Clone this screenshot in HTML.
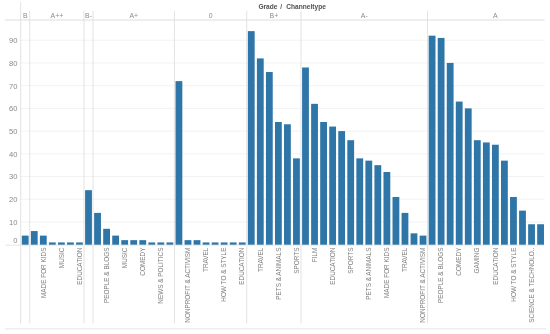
<!DOCTYPE html>
<html><head><meta charset="utf-8"><title>Grade / Channeltype</title>
<style>
html,body{margin:0;padding:0;background:#fff;}
body{width:550px;height:334px;overflow:hidden;font-family:"Liberation Sans",sans-serif;}
svg text{font-family:"Liberation Sans",sans-serif;}
.h{font-size:6.9px;fill:#8c8c8c;}
.l{font-size:7px;fill:#7e7e7e;}
.t{font-size:7.6px;fill:#888;}
.title{font-size:6.6px;font-weight:bold;fill:#505050;}
</style></head><body>
<svg width="550" height="334" viewBox="0 0 550 334" style="display:block">
<rect width="550" height="334" fill="#fff"/>
<line x1="20.7" x2="544.5" y1="221.98" y2="221.98" stroke="#f2f2f2" stroke-width="1"/>
<line x1="20.7" x2="544.5" y1="199.26" y2="199.26" stroke="#f2f2f2" stroke-width="1"/>
<line x1="20.7" x2="544.5" y1="176.54" y2="176.54" stroke="#f2f2f2" stroke-width="1"/>
<line x1="20.7" x2="544.5" y1="153.82" y2="153.82" stroke="#f2f2f2" stroke-width="1"/>
<line x1="20.7" x2="544.5" y1="131.10" y2="131.10" stroke="#f2f2f2" stroke-width="1"/>
<line x1="20.7" x2="544.5" y1="108.38" y2="108.38" stroke="#f2f2f2" stroke-width="1"/>
<line x1="20.7" x2="544.5" y1="85.66" y2="85.66" stroke="#f2f2f2" stroke-width="1"/>
<line x1="20.7" x2="544.5" y1="62.94" y2="62.94" stroke="#f2f2f2" stroke-width="1"/>
<line x1="20.7" x2="544.5" y1="40.22" y2="40.22" stroke="#f2f2f2" stroke-width="1"/>
<line x1="20.70" x2="20.70" y1="2" y2="323.5" stroke="#e2e2e2" stroke-width="1"/>
<line x1="29.74" x2="29.74" y1="10.7" y2="323.5" stroke="#e2e2e2" stroke-width="1"/>
<line x1="83.99" x2="83.99" y1="10.7" y2="323.5" stroke="#e2e2e2" stroke-width="1"/>
<line x1="93.03" x2="93.03" y1="10.7" y2="323.5" stroke="#e2e2e2" stroke-width="1"/>
<line x1="174.40" x2="174.40" y1="10.7" y2="323.5" stroke="#e2e2e2" stroke-width="1"/>
<line x1="246.73" x2="246.73" y1="10.7" y2="323.5" stroke="#e2e2e2" stroke-width="1"/>
<line x1="300.98" x2="300.98" y1="10.7" y2="323.5" stroke="#e2e2e2" stroke-width="1"/>
<line x1="427.56" x2="427.56" y1="10.7" y2="323.5" stroke="#e2e2e2" stroke-width="1"/>
<line x1="5" x2="544.5" y1="20.0" y2="20.0" stroke="#dedede" stroke-width="1.2"/>
<line x1="5" x2="544.5" y1="245.2" y2="245.2" stroke="#e6e6e6" stroke-width="1"/>
<rect x="5" y="328" width="541" height="1.6" fill="#eeeeee"/>
<text x="25.22" y="17.5" text-anchor="middle" class="h">B</text>
<rect x="21.82" y="235.61" width="6.8" height="9.09" fill="#2e75a8"/>
<text x="56.87" y="17.5" text-anchor="middle" class="h">A++</text>
<rect x="30.86" y="231.07" width="6.8" height="13.63" fill="#2e75a8"/>
<rect x="39.90" y="235.61" width="6.8" height="9.09" fill="#2e75a8"/>
<text transform="translate(45.50,247.6) rotate(-90) scale(0.915,1)" text-anchor="end" class="l">MADE FOR KIDS</text>
<rect x="48.94" y="242.43" width="6.8" height="2.27" fill="#2e75a8"/>
<rect x="57.99" y="242.43" width="6.8" height="2.27" fill="#2e75a8"/>
<text transform="translate(63.59,247.6) rotate(-90) scale(0.915,1)" text-anchor="end" class="l">MUSIC</text>
<rect x="67.03" y="242.43" width="6.8" height="2.27" fill="#2e75a8"/>
<rect x="76.07" y="242.43" width="6.8" height="2.27" fill="#2e75a8"/>
<text transform="translate(81.67,247.6) rotate(-90) scale(0.915,1)" text-anchor="end" class="l">EDUCATION</text>
<text x="88.51" y="17.5" text-anchor="middle" class="h">B-</text>
<rect x="85.11" y="190.17" width="6.8" height="54.53" fill="#2e75a8"/>
<text x="133.72" y="17.5" text-anchor="middle" class="h">A+</text>
<rect x="94.15" y="212.89" width="6.8" height="31.81" fill="#2e75a8"/>
<rect x="103.19" y="228.80" width="6.8" height="15.90" fill="#2e75a8"/>
<text transform="translate(108.79,247.6) rotate(-90) scale(0.915,1)" text-anchor="end" class="l">PEOPLE &amp; BLOGS</text>
<rect x="112.23" y="235.61" width="6.8" height="9.09" fill="#2e75a8"/>
<rect x="121.28" y="240.16" width="6.8" height="4.54" fill="#2e75a8"/>
<text transform="translate(126.88,247.6) rotate(-90) scale(0.915,1)" text-anchor="end" class="l">MUSIC</text>
<rect x="130.32" y="240.16" width="6.8" height="4.54" fill="#2e75a8"/>
<rect x="139.36" y="240.16" width="6.8" height="4.54" fill="#2e75a8"/>
<text transform="translate(144.96,247.6) rotate(-90) scale(0.915,1)" text-anchor="end" class="l">COMEDY</text>
<rect x="148.40" y="242.43" width="6.8" height="2.27" fill="#2e75a8"/>
<rect x="157.44" y="242.43" width="6.8" height="2.27" fill="#2e75a8"/>
<text transform="translate(163.04,247.6) rotate(-90) scale(0.915,1)" text-anchor="end" class="l">NEWS &amp; POLITICS</text>
<rect x="166.48" y="242.43" width="6.8" height="2.27" fill="#2e75a8"/>
<text x="210.57" y="17.5" text-anchor="middle" class="h">0</text>
<rect x="175.52" y="81.12" width="6.8" height="163.58" fill="#2e75a8"/>
<rect x="184.57" y="240.16" width="6.8" height="4.54" fill="#2e75a8"/>
<text transform="translate(190.17,247.6) rotate(-90) scale(0.915,1)" text-anchor="end" class="l">NONPROFIT &amp; ACTIVISM</text>
<rect x="193.61" y="240.16" width="6.8" height="4.54" fill="#2e75a8"/>
<rect x="202.65" y="242.43" width="6.8" height="2.27" fill="#2e75a8"/>
<text transform="translate(208.25,247.6) rotate(-90) scale(0.915,1)" text-anchor="end" class="l">TRAVEL</text>
<rect x="211.69" y="242.43" width="6.8" height="2.27" fill="#2e75a8"/>
<rect x="220.73" y="242.43" width="6.8" height="2.27" fill="#2e75a8"/>
<text transform="translate(226.33,247.6) rotate(-90) scale(0.915,1)" text-anchor="end" class="l">HOW TO &amp; STYLE</text>
<rect x="229.77" y="242.43" width="6.8" height="2.27" fill="#2e75a8"/>
<rect x="238.81" y="242.43" width="6.8" height="2.27" fill="#2e75a8"/>
<text transform="translate(244.41,247.6) rotate(-90) scale(0.915,1)" text-anchor="end" class="l">EDUCATION</text>
<text x="273.86" y="17.5" text-anchor="middle" class="h">B+</text>
<rect x="247.86" y="31.13" width="6.8" height="213.57" fill="#2e75a8"/>
<rect x="256.90" y="58.40" width="6.8" height="186.30" fill="#2e75a8"/>
<text transform="translate(262.50,247.6) rotate(-90) scale(0.915,1)" text-anchor="end" class="l">TRAVEL</text>
<rect x="265.94" y="72.03" width="6.8" height="172.67" fill="#2e75a8"/>
<rect x="274.98" y="122.01" width="6.8" height="122.69" fill="#2e75a8"/>
<text transform="translate(280.58,247.6) rotate(-90) scale(0.915,1)" text-anchor="end" class="l">PETS &amp; ANIMALS</text>
<rect x="284.02" y="124.28" width="6.8" height="120.42" fill="#2e75a8"/>
<rect x="293.06" y="158.36" width="6.8" height="86.34" fill="#2e75a8"/>
<text transform="translate(298.66,247.6) rotate(-90) scale(0.915,1)" text-anchor="end" class="l">SPORTS</text>
<text x="364.27" y="17.5" text-anchor="middle" class="h">A-</text>
<rect x="302.10" y="67.48" width="6.8" height="177.22" fill="#2e75a8"/>
<rect x="311.14" y="103.84" width="6.8" height="140.86" fill="#2e75a8"/>
<text transform="translate(316.74,247.6) rotate(-90) scale(0.915,1)" text-anchor="end" class="l">FILM</text>
<rect x="320.19" y="122.01" width="6.8" height="122.69" fill="#2e75a8"/>
<rect x="329.23" y="126.56" width="6.8" height="118.14" fill="#2e75a8"/>
<text transform="translate(334.83,247.6) rotate(-90) scale(0.915,1)" text-anchor="end" class="l">EDUCATION</text>
<rect x="338.27" y="131.10" width="6.8" height="113.60" fill="#2e75a8"/>
<rect x="347.31" y="140.19" width="6.8" height="104.51" fill="#2e75a8"/>
<text transform="translate(352.91,247.6) rotate(-90) scale(0.915,1)" text-anchor="end" class="l">SPORTS</text>
<rect x="356.35" y="158.36" width="6.8" height="86.34" fill="#2e75a8"/>
<rect x="365.39" y="160.64" width="6.8" height="84.06" fill="#2e75a8"/>
<text transform="translate(370.99,247.6) rotate(-90) scale(0.915,1)" text-anchor="end" class="l">PETS &amp; ANIMALS</text>
<rect x="374.43" y="165.18" width="6.8" height="79.52" fill="#2e75a8"/>
<rect x="383.48" y="172.00" width="6.8" height="72.70" fill="#2e75a8"/>
<text transform="translate(389.08,247.6) rotate(-90) scale(0.915,1)" text-anchor="end" class="l">MADE FOR KIDS</text>
<rect x="392.52" y="196.99" width="6.8" height="47.71" fill="#2e75a8"/>
<rect x="401.56" y="212.89" width="6.8" height="31.81" fill="#2e75a8"/>
<text transform="translate(407.16,247.6) rotate(-90) scale(0.915,1)" text-anchor="end" class="l">TRAVEL</text>
<rect x="410.60" y="233.34" width="6.8" height="11.36" fill="#2e75a8"/>
<rect x="419.64" y="235.61" width="6.8" height="9.09" fill="#2e75a8"/>
<text transform="translate(425.24,247.6) rotate(-90) scale(0.915,1)" text-anchor="end" class="l">NONPROFIT &amp; ACTIVISM</text>
<text x="495.37" y="17.5" text-anchor="middle" class="h">A</text>
<rect x="428.68" y="35.68" width="6.8" height="209.02" fill="#2e75a8"/>
<rect x="437.72" y="37.95" width="6.8" height="206.75" fill="#2e75a8"/>
<text transform="translate(443.32,247.6) rotate(-90) scale(0.915,1)" text-anchor="end" class="l">PEOPLE &amp; BLOGS</text>
<rect x="446.77" y="62.94" width="6.8" height="181.76" fill="#2e75a8"/>
<rect x="455.81" y="101.56" width="6.8" height="143.14" fill="#2e75a8"/>
<text transform="translate(461.41,247.6) rotate(-90) scale(0.915,1)" text-anchor="end" class="l">COMEDY</text>
<rect x="464.85" y="108.38" width="6.8" height="136.32" fill="#2e75a8"/>
<rect x="473.89" y="140.19" width="6.8" height="104.51" fill="#2e75a8"/>
<text transform="translate(479.49,247.6) rotate(-90) scale(0.915,1)" text-anchor="end" class="l">GAMING</text>
<rect x="482.93" y="142.46" width="6.8" height="102.24" fill="#2e75a8"/>
<rect x="491.97" y="144.73" width="6.8" height="99.97" fill="#2e75a8"/>
<text transform="translate(497.57,247.6) rotate(-90) scale(0.915,1)" text-anchor="end" class="l">EDUCATION</text>
<rect x="501.01" y="160.64" width="6.8" height="84.06" fill="#2e75a8"/>
<rect x="510.06" y="196.99" width="6.8" height="47.71" fill="#2e75a8"/>
<text transform="translate(515.66,247.6) rotate(-90) scale(0.915,1)" text-anchor="end" class="l">HOW TO &amp; STYLE</text>
<rect x="519.10" y="210.62" width="6.8" height="34.08" fill="#2e75a8"/>
<rect x="528.14" y="224.25" width="6.8" height="20.45" fill="#2e75a8"/>
<text transform="translate(533.74,247.6) rotate(-90) scale(0.915,1)" text-anchor="end" class="l">SCIENCE &amp; TECHNOLO..</text>
<rect x="537.18" y="224.25" width="6.8" height="20.45" fill="#2e75a8"/>
<text x="17.4" y="243.20" text-anchor="end" class="t">0</text>
<text x="17.4" y="224.88" text-anchor="end" class="t">10</text>
<text x="17.4" y="202.16" text-anchor="end" class="t">20</text>
<text x="17.4" y="179.44" text-anchor="end" class="t">30</text>
<text x="17.4" y="156.72" text-anchor="end" class="t">40</text>
<text x="17.4" y="134.00" text-anchor="end" class="t">50</text>
<text x="17.4" y="111.28" text-anchor="end" class="t">60</text>
<text x="17.4" y="88.56" text-anchor="end" class="t">70</text>
<text x="17.4" y="65.84" text-anchor="end" class="t">80</text>
<text x="17.4" y="43.12" text-anchor="end" class="t">90</text>
<text y="8.8" class="title"><tspan x="258.4" textLength="19.1">Grade</tspan> <tspan x="280.2">/</tspan> <tspan x="286.2" textLength="39.7">Channeltype</tspan></text>
</svg>
</body></html>
